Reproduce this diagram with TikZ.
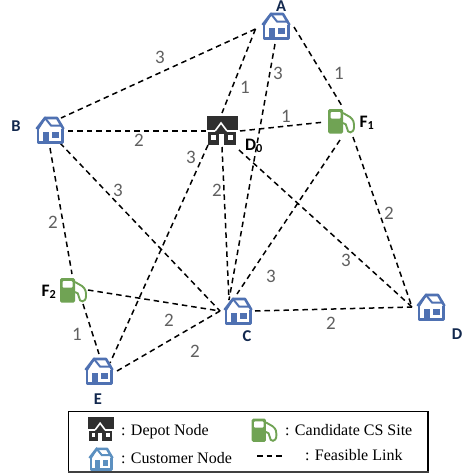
\documentclass[tikz,border=0pt]{standalone}
\usepackage{fontspec}
\setmainfont{Carlito}
\newfontfamily\legendfont{Liberation Serif}
\definecolor{houseblue}{HTML}{4F71B2}
\definecolor{legendblue}{HTML}{5C90C0}
\definecolor{pumpgreen}{HTML}{70A354}
\definecolor{depotdark}{HTML}{2F2F2F}
\definecolor{navy}{HTML}{12284E}
\definecolor{numgray}{HTML}{606060}
\tikzset{
  link/.style={draw=black,line width=1.5pt,dash pattern=on 5.5pt off 4pt},
  weight/.style={text=numgray,font=\fontsize{19}{19}\selectfont,inner sep=0pt},
  custname/.style={text=navy,font=\fontsize{16.5}{16.5}\selectfont\bfseries,inner sep=0pt},
  sitename/.style={text=black,font=\fontsize{17.5}{17.5}\selectfont\bfseries,inner sep=0pt},
  legendtext/.style={text=black,font=\fontsize{16}{16}\selectfont\legendfont,inner sep=0pt,anchor=west},
  pics/house/.style={code={
    \draw[#1,line width=2.6pt,line join=round] (-12,-1) -- (-12,12.5) -- (12.5,12.5) -- (12.5,-1);
    \draw[#1,line width=2.6pt,line join=round] (-13.5,-1) -- (-5,-12) -- (7,-12) -- (13.5,-1);
    \draw[#1,line width=2pt] (-12,-1) -- (-5,-12) -- (1,-4.5) -- (12.5,-4.5);
    \fill[#1] (-7.5,1.5) rectangle (-1,13);
    \fill[#1] (2,1.5) rectangle (8.5,8);
  }},
  pics/depot/.style={code={
    \fill[depotdark] (-15.5,-15) rectangle (15.5,-1.5);
    \fill[depotdark] (-14,-1.5) rectangle (13.5,13.5);
    \draw[white,line width=1.6pt] (-7,0) -- (-1,-8) -- (5,0) ;
    \fill[white] (-11,3.5) rectangle (-6.5,8.5);
    \fill[white] (6,3.5) rectangle (10.5,8.5);
    \fill[white] (-3,3) rectangle (1.5,13.5);
    \fill[white] (-14,-1.5) rectangle (-7,1);
    \fill[white] (5,-1.5) rectangle (13.5,1);
  }},
  pics/pump/.style={code={
    \fill[pumpgreen,rounded corners=1.5pt] (-13,-12) rectangle (2,12.5);
    \fill[white,rounded corners=1pt] (-10.5,-9) rectangle (-0.5,-2.5);
    \draw[pumpgreen,line width=1.9pt] (2,-8) -- (9,-4) .. controls (13,-1) and (13,2) .. (13,6)
      .. controls (13,13) and (6,13) .. (6,7) .. controls (6,4) and (4,2) .. (2,2);
  }},
}
\begin{document}
\begin{tikzpicture}[x=1pt,y=-1pt]
\useasboundingbox (0,0) rectangle (474,474);
\fill[white] (0,0) rectangle (474,474);
% link end points
\coordinate (Aw) at (255.5,29);
\coordinate (As) at (275,44);
\coordinate (Ae) at (294,27);
\coordinate (Bne) at (61,118);
\coordinate (Be) at (68,131);
\coordinate (Bse) at (60,143);
\coordinate (Bs) at (50,148);
\coordinate (Zn) at (222,113);
\coordinate (Zw) at (206,131);
\coordinate (Ze) at (240,131);
\coordinate (Zsw) at (208,145);
\coordinate (Zs) at (222,147);
\coordinate (Zse) at (239,150);
\coordinate (Fn) at (342,106);
\coordinate (Fw) at (325,122);
\coordinate (Fsw) at (340,140);
\coordinate (Fse) at (353,137);
\coordinate (Cw) at (220,311);
\coordinate (Cn) at (229,300);
\coordinate (Cne) at (237,294);
\coordinate (Ce) at (255,311);
\coordinate (Dw) at (412,307);
\coordinate (Gn) at (72,274);
\coordinate (Ge) at (88,290);
\coordinate (Gs) at (83,304);
\coordinate (En) at (99,354);
\coordinate (Ene) at (110,363);
\coordinate (Ee) at (117,371);
% links
\draw[link] (Aw) -- (Bne);
\draw[link] (Aw) -- (Zn);
\draw[link] (As) -- (Cn);
\draw[link] (Ae) -- (Fn);
\draw[link] (Zw) -- (Be);
\draw[link] (Ze) -- (Fw);
\draw[link] (Zsw) -- (Ene);
\draw[link] (Zs) -- (Cn);
\draw[link] (Zse) -- (Dw);
\draw[link] (Fsw) -- (Cne);
\draw[link] (Fse) -- (Dw);
\draw[link] (Ce) -- (Dw);
\draw[link] (Bse) -- (Cw);
\draw[link] (Ge) -- (Cw);
\draw[link] (Ee) -- (Cw);
\draw[link] (Bs) -- (Gn);
\draw[link] (Gs) -- (En);
% icons
\pic at (276,26) {house=houseblue};
\pic at (50,130) {house=houseblue};
\pic at (238,311) {house=houseblue};
\pic at (431,307) {house=houseblue};
\pic at (99,371) {house=houseblue};
\pic at (222,131) {depot};
\pic at (341,121) {pump};
\pic at (73,290) {pump};
% names
\node[custname] (nA) at (281,6) {A};
\node[custname] (nB) at (16,126) {B};
\node[custname] (nC) at (247,336) {C};
\node[custname] (nD) at (457,334) {D};
\node[custname] (nE) at (98,399) {E};
\node[sitename] (nF1) at (367,123) {F\textsubscript{1}};
\node[sitename] (nF2) at (49,292) {F\textsubscript{2}};
\node[sitename] (nD0) at (254,146) {D\textsubscript{0}};
% weights
\node[weight] (w1) at (160,57) {3};
\node[weight] (w2) at (245,87) {1};
\node[weight] (w3) at (278,73) {3};
\node[weight] (w4) at (339,73) {1};
\node[weight] (w5) at (286,116) {1};
\node[weight] (w6) at (139,140) {2};
\node[weight] (w7) at (191,157) {3};
\node[weight] (w8) at (118,190) {3};
\node[weight] (w9) at (217,190) {2};
\node[weight] (w10) at (53,222) {2};
\node[weight] (w11) at (389,213) {2};
\node[weight] (w12) at (346,260) {3};
\node[weight] (w13) at (271,276) {3};
\node[weight] (w14) at (331,323) {2};
\node[weight] (w15) at (169,320) {2};
\node[weight] (w16) at (195,351) {2};
\node[weight] (w17) at (77,334) {1};
% legend
\draw[black,line width=1.5pt] (68.5,411.5) rectangle (428,471.5);
\draw[black!75,line width=2.5pt] (68,472) -- (428.5,472);
\pic[scale=0.85] at (101,430) {depot};
\pic[scale=0.85] at (101,459) {house=legendblue};
\pic[scale=0.95] at (264,430) {pump};
\coordinate (La) at (257,456);
\coordinate (Lb) at (283,456);
\draw[link] (La) -- (Lb);
\node[legendtext] (t1) at (121,432) {: Depot Node};
\node[legendtext] (t2) at (121,458) {: Customer Node};
\node[legendtext] (t3) at (285,430) {: Candidate CS Site};
\node[legendtext] (t4) at (305,455) {: Feasible Link};
\end{tikzpicture}
\end{document}
